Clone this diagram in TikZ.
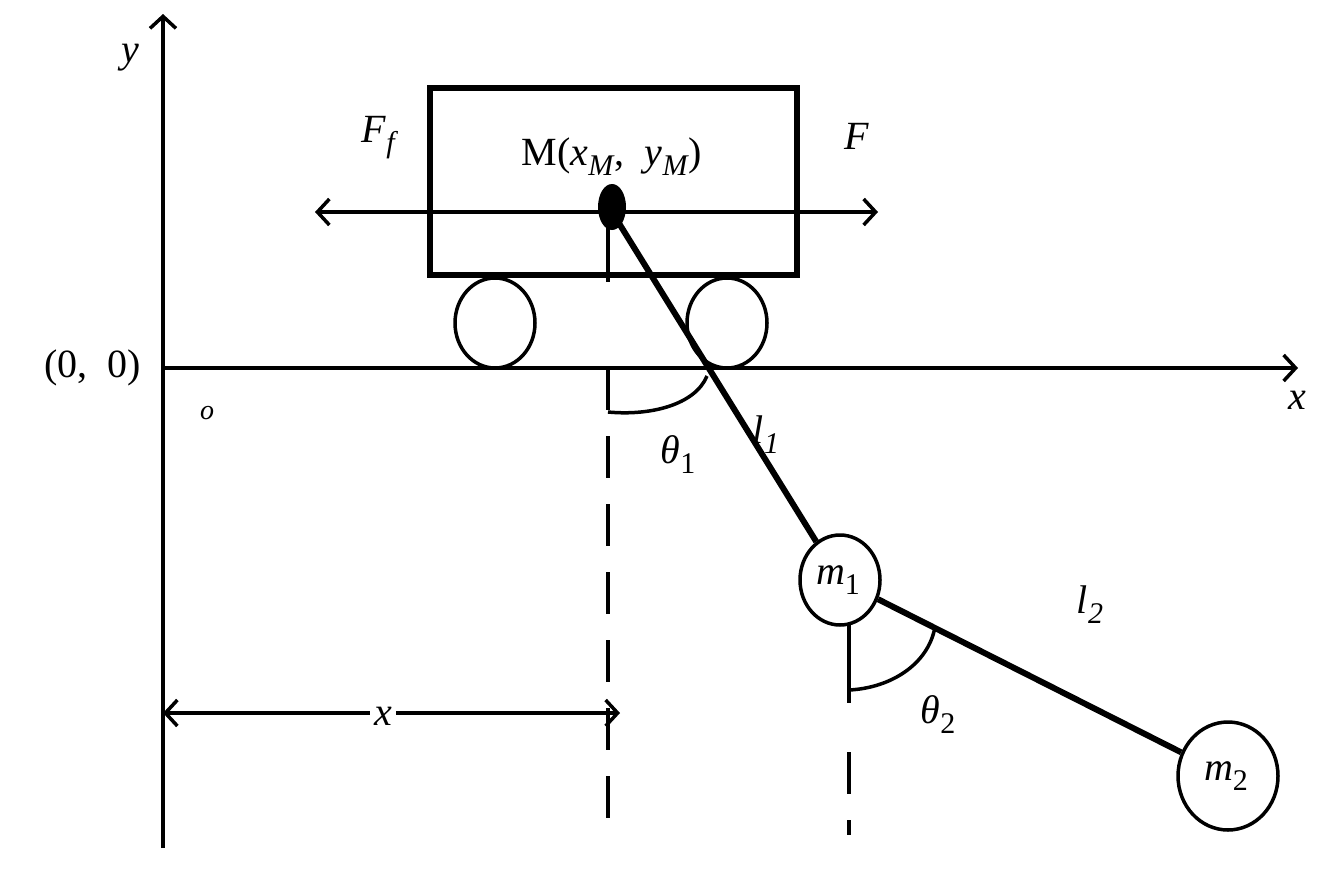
\documentclass[tikz,border=0pt]{standalone}
\usepackage{fontspec}
\setmainfont{Liberation Serif}
\usetikzlibrary{arrows.meta,shapes.geometric}
\newcommand{\iv}[1]{\textit{#1}}
\newcommand{\sbx}[1]{\raisebox{-0.25em}{\fontsize{30}{32}\selectfont #1}}
\begin{document}
\begin{tikzpicture}[x=1pt,y=-1pt,
 tl/.style={line width=3.5pt},
 tk/.style={line width=6pt},
 arr/.style={-{Straight Barb[length=12pt,width=26pt,line width=3.5pt]}},
 dsh/.style={line width=3.5pt,dash pattern=on 42pt off 26pt},
 lab/.style={font=\fontsize{40}{42}\selectfont,inner sep=1pt}]
\useasboundingbox (0,0) rectangle (1324,870);
% axes
\coordinate (ya) at (163,848); \coordinate (yb) at (163,14);
\coordinate (xa) at (163,368); \coordinate (xb) at (1298,368);
\draw[tl,arr] (ya) -- (yb);
\draw[tl,arr] (xa) -- (xb);
\node[lab] (ly) at (130,58) {\iv{y}};
\node[lab] (lx) at (1297,400) {\iv{x}};
\node[lab,anchor=east] (o0) at (142,368) {(0,\ \ 0)};
\node[font=\fontsize{28}{30}\selectfont] (lo) at (207,413) {\iv{o}};
% cart
\draw[tk] (430,88) rectangle (797,275);
\node[tl,draw,ellipse,minimum width=80pt,minimum height=90pt,inner sep=0pt] (w1) at (495,323) {};
\node[tl,draw,ellipse,minimum width=80pt,minimum height=90pt,inner sep=0pt] (w2) at (727,323) {};
\coordinate (fa) at (315,212); \coordinate (fb) at (878,212);
\draw[tl,arr] (612,212) -- (fa);
\draw[tl,arr] (612,212) -- (fb);
\node[lab] (lff) at (380,138) {\iv{F}\sbx{\iv{f}}};
\node[lab] (lf) at (857,136) {\iv{F}};
\node[lab] (lm) at (612,157) {M(\iv{x}\sbx{\iv{M}},\ \ \iv{y}\sbx{\iv{M}})};
% vertical references
\draw[tl] (608,215) -- (608,282);
\draw[dsh] (608,368) -- (608,835);
\draw[tl] (849,625) -- (849,703);
\draw[dsh] (849,752) -- (849,835);
% rods and masses
\node[tl,draw,ellipse,minimum width=80pt,minimum height=90pt,inner sep=0pt] (m1) at (840,580) {};
\node[tl,draw,ellipse,minimum width=100pt,minimum height=108pt,inner sep=0pt] (m2) at (1228,776) {};
\coordinate (pv) at (612,212);
\draw[tk] (pv) -- (m1);
\draw[tk] (m1) -- (m2);
\node[lab] at (838,580) {\iv{m}\sbx{1}};
\node[lab] at (1226,776) {\iv{m}\sbx{2}};
\node[fill=black,ellipse,minimum width=28pt,minimum height=46pt,inner sep=0pt] (dot) at (612,207) {};
% angles
\draw[tl] (608,412) .. controls (650,416) and (695,405) .. (707,376);
\draw[tl] (849,690) .. controls (890,688) and (928,665) .. (935,627);
\node[lab] (t1) at (678,455) {\iv{θ}\sbx{1}};
\node[lab] (t2) at (938,715) {\iv{θ}\sbx{2}};
\node[lab] (l1) at (766,435) {\iv{l}\sbx{\iv{1}}};
\node[lab] (l2) at (1090,605) {\iv{l}\sbx{\iv{2}}};
% dimension x
\coordinate (da) at (163,713); \coordinate (db) at (620,713);
\draw[tl,arr] (380,713) -- (da);
\draw[tl,arr] (380,713) -- (db);
\node[lab,fill=white,inner sep=4pt] (dx) at (383,716) {\iv{x}};
\end{tikzpicture}
\end{document}
